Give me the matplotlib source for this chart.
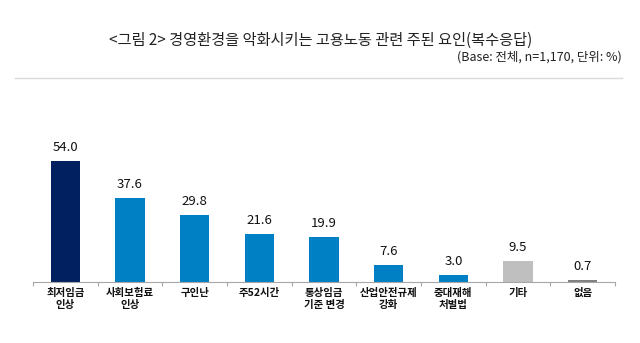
import numpy as np
import matplotlib
matplotlib.use("Agg")
import matplotlib.pyplot as plt
from matplotlib.lines import Line2D

plt.rcParams["font.family"] = ["Noto Sans CJK KR", "DejaVu Sans"]

categories = ["최저임금\n인상", "사회보험료\n인상", "구인난", "주52시간", "통상임금\n기준 변경",
              "산업안전규제\n강화", "중대재해\n처벌법", "기타", "없음"]
values = [54.0, 37.6, 29.8, 21.6, 19.9, 7.6, 3.0, 9.5, 0.7]
colors = ["#002060", "#0080C4", "#0080C4", "#0080C4", "#0080C4", "#0080C4", "#0080C4",
          "#BFBFBF", "#808080"]

W, H = 640, 343
fig = plt.figure(figsize=(W / 100, H / 100), dpi=100)
base_y = 282
px_per_unit = 121 / 54.0
ymax = 70
ax = fig.add_axes([33 / W, (H - base_y) / H, (615 - 33) / W, ymax * px_per_unit / H])

x = np.arange(len(values))
ax.bar(x, values, width=0.45, color=colors, zorder=2)
for xi, v in zip(x, values):
    ax.annotate(f"{v:.1f}", (xi, v), xytext=(0, 5), textcoords="offset points",
                ha="center", va="bottom", fontsize=9.5, fontweight="medium", color="#111111")

ax.set_xlim(-0.5, len(values) - 0.5)
ax.set_ylim(0, ymax)
ax.set_yticks([])
for s in ["top", "right", "left"]:
    ax.spines[s].set_visible(False)
ax.spines["bottom"].set_color("#A6A6A6")
ax.spines["bottom"].set_linewidth(0.8)

ax.set_xticks(np.arange(-0.5, len(values)), [""] * (len(values) + 1))
ax.tick_params(axis="x", which="major", length=3, color="#A6A6A6", width=0.8)
ax.set_xticks(x, categories, minor=True)
ax.tick_params(axis="x", which="minor", length=0, pad=4, labelsize=7.5)
for t in ax.get_xticklabels(minor=True):
    t.set_fontweight("bold")
    t.set_linespacing(1.3)
    t.set_color("#111111")

fig.text(321 / W, 1 - 40 / H, "<그림 2> 경영환경을 악화시키는 고용노동 관련 주된 요인(복수응답)",
         ha="center", va="center", fontsize=11, color="#222222")
fig.text(622 / W, 1 - 57 / H, "(Base: 전체, n=1,170, 단위: %)",
         ha="right", va="center", fontsize=9, color="#222222")
fig.add_artist(Line2D([15 / W, 622 / W], [1 - 78 / H, 1 - 78 / H], color="#D9D9D9", lw=1))

fig.savefig("out.png", dpi=100)
